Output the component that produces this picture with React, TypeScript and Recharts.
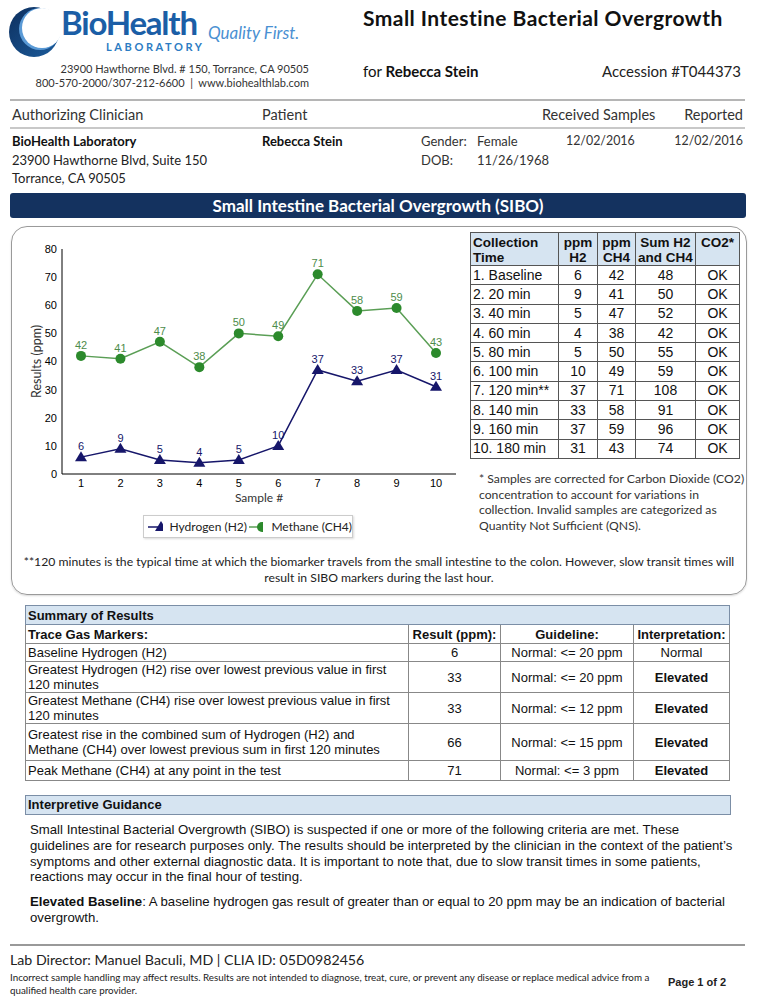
import React from "react";
import { LineChart, Line, XAxis, YAxis, Legend, LabelList } from "recharts";

const sampleNums = [1, 2, 3, 4, 5, 6, 7, 8, 9, 10];
const collectionTimes = ["1. Baseline", "2. 20 min", "3. 40 min", "4. 60 min", "5. 80 min", "6. 100 min", "7. 120 min**", "8. 140 min", "9. 160 min", "10. 180 min"];
const h2Values = [6, 9, 5, 4, 5, 10, 37, 33, 37, 31];
const ch4Values = [42, 41, 47, 38, 50, 49, 71, 58, 59, 43];
const sumValues = [48, 50, 52, 42, 55, 59, 108, 91, 96, 74];
const co2Status = ["OK", "OK", "OK", "OK", "OK", "OK", "OK", "OK", "OK", "OK"];
const yTicks = [0, 10, 20, 30, 40, 50, 60, 70, 80];

const summaryMarkers = [
  "Baseline Hydrogen (H2)",
  "Greatest Hydrogen (H2) rise over lowest previous value in first 120 minutes",
  "Greatest Methane (CH4) rise over lowest previous value in first 120 minutes",
  "Greatest rise in the combined sum of Hydrogen (H2) and Methane (CH4) over lowest previous sum in first 120 minutes",
  "Peak Methane (CH4) at any point in the test",
];
const summaryResults = [6, 33, 33, 66, 71];
const summaryGuidelines = ["Normal: <= 20 ppm", "Normal: <= 20 ppm", "Normal: <= 12 ppm", "Normal: <= 15 ppm", "Normal: <= 3 ppm"];
const summaryInterp = ["Normal", "Elevated", "Elevated", "Elevated", "Elevated"];
const summaryRowHeights = [18, 31, 31, 37, 20];

const H2_COLOR = "#16166a";
const CH4_LINE = "#5a9e55";
const CH4_DOT = "#2c8a2c";
const CH4_LABEL = "#4d8c4a";
const SEGOE = "Lato, 'Open Sans', sans-serif";
const ARIAL = "'Liberation Sans', Arial, sans-serif";
const HEAD_BG = "#d6e4f1";

const chartData = sampleNums.map((s, i) => ({ sample: s, h2: h2Values[i], ch4: ch4Values[i] }));

function Tri(props: any) {
  const { cx, cy, index } = props;
  if (cx == null || cy == null) return null;
  return <polygon key={"t" + index} points={`${cx},${cy - 6} ${cx + 6},${cy + 4} ${cx - 6},${cy + 4}`} fill={H2_COLOR} />;
}

function ChartLegend() {
  return (
    <div style={{ marginLeft: 123, width: 208, height: 21, border: "1px solid #ccc", boxShadow: "1px 1px 2px rgba(0,0,0,0.15)", display: "flex", alignItems: "center", fontFamily: SEGOE, fontSize: 12, color: "#222" }}>
      <svg width={30} height={14} style={{ marginLeft: 2 }}>
        <line x1={2} y1={7} x2={28} y2={7} stroke={H2_COLOR} strokeWidth={1.5} />
        <polygon points="15,1 21,11 9,11" fill={H2_COLOR} />
      </svg>
      <span style={{ marginLeft: 7 }}>Hydrogen (H2)</span>
      <svg width={28} height={14} style={{ marginLeft: 1 }}>
        <line x1={1} y1={7} x2={27} y2={7} stroke={CH4_LINE} strokeWidth={1.5} />
        <circle cx={14} cy={7} r={5} fill={CH4_DOT} />
      </svg>
      <span style={{ marginLeft: 8 }}>Methane (CH4)</span>
    </div>
  );
}

function SiboChart() {
  return (
    <LineChart width={440} height={305} data={chartData} margin={{ top: 9, right: 4, left: 0, bottom: 7 }}>
      <XAxis
        dataKey="sample"
        interval={0}
        axisLine={{ stroke: "#000" }}
        tickLine={false}
        tickSize={3}
        tickMargin={2}
        height={41}
        padding={{ left: 19, right: 20 }}
        tick={{ fill: "#000", fontSize: 11, fontFamily: ARIAL }}
        label={{ value: "Sample #", position: "insideBottom", offset: 13, fill: "#333", fontSize: 12, fontFamily: SEGOE }}
      />
      <YAxis
        domain={[0, 80]}
        ticks={yTicks}
        width={42}
        axisLine={{ stroke: "#000" }}
        tickLine={false}
        tickSize={3}
        tickMargin={2}
        tick={{ fill: "#000", fontSize: 11, fontFamily: ARIAL }}
        label={{ value: "Results (ppm)", angle: -90, position: "insideLeft", offset: 17, fill: "#333", fontSize: 12.5, fontFamily: SEGOE, style: { textAnchor: "middle" } }}
      />
      <Legend verticalAlign="bottom" align="left" content={() => <ChartLegend />} />
      <Line type="linear" dataKey="ch4" stroke={CH4_LINE} strokeWidth={1.5} dot={{ r: 5, fill: CH4_DOT, stroke: CH4_DOT, strokeWidth: 0 }} isAnimationActive={false}>
        <LabelList dataKey="ch4" position="top" offset={7} fill={CH4_LABEL} fontSize={11} fontFamily={ARIAL} />
      </Line>
      <Line type="linear" dataKey="h2" stroke={H2_COLOR} strokeWidth={1.5} dot={(p: any) => <Tri {...p} />} isAnimationActive={false}>
        <LabelList dataKey="h2" position="top" offset={7} fill={H2_COLOR} fontSize={11} fontFamily={ARIAL} />
      </Line>
    </LineChart>
  );
}

const abs = (left: number, top: number, extra: React.CSSProperties = {}): React.CSSProperties => ({ position: "absolute", left, top, whiteSpace: "nowrap", ...extra });
const absR = (right: number, top: number, extra: React.CSSProperties = {}): React.CSSProperties => ({ position: "absolute", right: 760 - right, top, whiteSpace: "nowrap", ...extra });

const cell: React.CSSProperties = { border: "1px solid #555", padding: "0 2px", fontFamily: ARIAL, fontSize: 14, color: "#111", lineHeight: "15px" };

export default function App() {
  return (
    <div style={{ position: "absolute", left: 0, top: 0, width: 760, height: 997, background: "#fff", overflow: "hidden", fontFamily: SEGOE, color: "#222" }}>
      {/* logo */}
      <svg width={54} height={54} style={abs(7, 5)}>
        <defs>
          <linearGradient id="lg" x1="0" y1="0" x2="1" y2="1">
            <stop offset="0" stopColor="#0d2f5e" />
            <stop offset="1" stopColor="#1c5c9c" />
          </linearGradient>
        </defs>
        <circle cx={27} cy={27} r={25} fill="url(#lg)" />
        <circle cx={33} cy={24} r={21} fill="#5a9ad6" />
        <circle cx={35} cy={23} r={20} fill="#fff" />
      </svg>
      <div style={abs(61, 9, { fontFamily: SEGOE, fontWeight: 700, fontSize: 33, lineHeight: "26px", color: "#1b5ea6", letterSpacing: -1.2 })}>BioHealth</div>
      <div style={abs(106, 41, { fontFamily: SEGOE, fontWeight: 700, fontSize: 11, lineHeight: "11px", color: "#2c7cc3", letterSpacing: 2.6 })}>LABORATORY</div>
      <div style={abs(208, 22, { fontFamily: SEGOE, fontStyle: "italic", fontSize: 17, color: "#4a90d2" })}>Quality First.</div>
      <div style={absR(309, 62, { textAlign: "right", fontSize: 11, lineHeight: "14px", color: "#333" })}>
        23900 Hawthorne Blvd. # 150, Torrance, CA 90505<br />800-570-2000/307-212-6600 &nbsp;|&nbsp; www.biohealthlab.com
      </div>

      {/* title block */}
      <div style={abs(363, 5, { fontWeight: 700, fontSize: 21, letterSpacing: 0.45, color: "#111" })}>Small Intestine Bacterial Overgrowth</div>
      <div style={abs(363, 62, { fontSize: 15, color: "#111" })}>for <b>Rebecca Stein</b></div>
      <div style={absR(741, 62, { fontSize: 15, color: "#222" })}>Accession #T044373</div>

      <div style={abs(10, 99, { width: 735, height: 2, background: "#b5b5b5" })} />
      <div style={abs(12, 106, { fontSize: 14.5, color: "#333" })}>Authorizing Clinician</div>
      <div style={abs(262, 106, { fontSize: 14.5, color: "#333" })}>Patient</div>
      <div style={abs(542, 106, { fontSize: 14.5, color: "#333" })}>Received Samples</div>
      <div style={absR(743, 106, { fontSize: 14.5, color: "#333" })}>Reported</div>
      <div style={abs(10, 127, { width: 735, height: 2, background: "#c8c8c8" })} />

      <div style={abs(12, 133, { fontSize: 13, fontWeight: 700, color: "#111" })}>BioHealth Laboratory</div>
      <div style={abs(12, 152, { fontSize: 13, color: "#222" })}>23900 Hawthorne Blvd, Suite 150</div>
      <div style={abs(12, 170, { fontSize: 13, color: "#222" })}>Torrance, CA 90505</div>
      <div style={abs(262, 133, { fontSize: 13, fontWeight: 700, color: "#111" })}>Rebecca Stein</div>
      <div style={abs(421, 133, { fontSize: 13, color: "#333" })}>Gender:</div>
      <div style={abs(477, 133, { fontSize: 13, color: "#333" })}>Female</div>
      <div style={abs(421, 152, { fontSize: 13, color: "#333" })}>DOB:</div>
      <div style={abs(477, 152, { fontSize: 13, color: "#333" })}>11/26/1968</div>
      <div style={abs(566, 133, { fontSize: 12.4, color: "#333" })}>12/02/2016</div>
      <div style={absR(743, 133, { fontSize: 12.4, color: "#333" })}>12/02/2016</div>

      <div style={abs(10, 193, { width: 736, height: 25, background: "#14325f", borderRadius: 3, color: "#fff", fontWeight: 700, fontSize: 17, textAlign: "center", lineHeight: "25px" })}>
        Small Intestine Bacterial Overgrowth (SIBO)
      </div>

      {/* chart box */}
      <div style={abs(11, 226, { width: 734, height: 367, border: "1.5px solid #9a9a9a", borderRadius: 16, boxShadow: "0 1px 2px rgba(0,0,0,0.15)" })} />
      <div style={abs(20, 240)}>
        <SiboChart />
      </div>

      <table style={{ position: "absolute", left: 470, top: 232, width: 269, borderCollapse: "collapse", tableLayout: "fixed" }}>
        <colgroup>
          <col style={{ width: 88 }} />
          <col style={{ width: 39 }} />
          <col style={{ width: 38 }} />
          <col style={{ width: 60 }} />
          <col style={{ width: 44 }} />
        </colgroup>
        <tbody>
          <tr style={{ height: 33, background: HEAD_BG }}>
            <td style={{ ...cell, fontWeight: 700, fontSize: 13.5, verticalAlign: "top", paddingTop: 2 }}>Collection<br />Time</td>
            <td style={{ ...cell, fontWeight: 700, fontSize: 13.5, textAlign: "center", verticalAlign: "top", paddingTop: 2 }}>ppm<br />H2</td>
            <td style={{ ...cell, fontWeight: 700, fontSize: 13.5, textAlign: "center", verticalAlign: "top", paddingTop: 2 }}>ppm<br />CH4</td>
            <td style={{ ...cell, fontWeight: 700, fontSize: 13.5, textAlign: "center", verticalAlign: "top", paddingTop: 2 }}>Sum H2<br />and CH4</td>
            <td style={{ ...cell, fontWeight: 700, fontSize: 13.5, textAlign: "center", verticalAlign: "top", paddingTop: 2 }}>CO2*</td>
          </tr>
          {collectionTimes.map((t, i) => (
            <tr key={t} style={{ height: 19.3 }}>
              <td style={cell}>{t}</td>
              <td style={{ ...cell, textAlign: "center" }}>{h2Values[i]}</td>
              <td style={{ ...cell, textAlign: "center" }}>{ch4Values[i]}</td>
              <td style={{ ...cell, textAlign: "center" }}>{sumValues[i]}</td>
              <td style={{ ...cell, textAlign: "center" }}>{co2Status[i]}</td>
            </tr>
          ))}
        </tbody>
      </table>

      <div style={abs(479, 471, { fontSize: 12.2, lineHeight: "15.7px", color: "#333" })}>
        * Samples are corrected for Carbon Dioxide (CO2)<br />concentration to account for variations in<br />collection. Invalid samples are categorized as<br />Quantity Not Sufficient (QNS).
      </div>

      <div style={{ position: "absolute", left: 11, top: 554, width: 736, textAlign: "center", fontSize: 12.2, lineHeight: "16px", color: "#222" }}>
        **120 minutes is the typical time at which the biomarker travels from the small intestine to the colon. However, slow transit times will<br />result in SIBO markers during the last hour.
      </div>

      {/* summary */}
      <table style={{ position: "absolute", left: 25, top: 605, width: 704, borderCollapse: "collapse", tableLayout: "fixed" }}>
        <colgroup>
          <col style={{ width: 383 }} />
          <col style={{ width: 92 }} />
          <col style={{ width: 133 }} />
          <col style={{ width: 96 }} />
        </colgroup>
        <tbody>
          <tr style={{ height: 19, background: HEAD_BG }}>
            <td colSpan={4} style={{ ...cell, border: "1px solid #7b8ea6", fontWeight: 700, fontSize: 13 }}>Summary of Results</td>
          </tr>
          <tr style={{ height: 19 }}>
            <td style={{ ...cell, border: "1px solid #888", fontWeight: 700, fontSize: 13 }}>Trace Gas Markers:</td>
            <td style={{ ...cell, border: "1px solid #888", fontWeight: 700, fontSize: 13, textAlign: "center" }}>Result (ppm):</td>
            <td style={{ ...cell, border: "1px solid #888", fontWeight: 700, fontSize: 13, textAlign: "center" }}>Guideline:</td>
            <td style={{ ...cell, border: "1px solid #888", fontWeight: 700, fontSize: 13, textAlign: "center" }}>Interpretation:</td>
          </tr>
          {summaryMarkers.map((m, i) => (
            <tr key={m} style={{ height: summaryRowHeights[i] }}>
              <td style={{ ...cell, border: "1px solid #888", fontSize: 13, lineHeight: "15px" }}>{m}</td>
              <td style={{ ...cell, border: "1px solid #888", fontSize: 13, textAlign: "center" }}>{summaryResults[i]}</td>
              <td style={{ ...cell, border: "1px solid #888", fontSize: 13, textAlign: "center" }}>{summaryGuidelines[i]}</td>
              <td style={{ ...cell, border: "1px solid #888", fontSize: 13, textAlign: "center", fontWeight: summaryInterp[i] === "Normal" ? 400 : 700 }}>{summaryInterp[i]}</td>
            </tr>
          ))}
        </tbody>
      </table>

      <div style={abs(25, 795, { width: 702, height: 18, background: HEAD_BG, border: "1px solid #7b8ea6", fontFamily: ARIAL, fontWeight: 700, fontSize: 13, lineHeight: "18px", paddingLeft: 2, color: "#111", boxSizing: "content-box" })}>Interpretive Guidance</div>

      <div style={abs(30, 822, { fontFamily: ARIAL, fontSize: 13.2, lineHeight: "15.8px", color: "#111" })}>
        Small Intestinal Bacterial Overgrowth (SIBO) is suspected if one or more of the following criteria are met. These<br />
        guidelines are for research purposes only. The results should be interpreted by the clinician in the context of the patient’s<br />
        symptoms and other external diagnostic data. It is important to note that, due to slow transit times in some patients,<br />
        reactions may occur in the final hour of testing.
      </div>
      <div style={abs(30, 894, { fontFamily: ARIAL, fontSize: 13.2, lineHeight: "15.8px", color: "#111" })}>
        <b>Elevated Baseline</b>: A baseline hydrogen gas result of greater than or equal to 20 ppm may be an indication of bacterial<br />overgrowth.
      </div>

      {/* footer */}
      <div style={abs(10, 944, { width: 735, height: 1.5, background: "#999" })} />
      <div style={abs(10, 951, { fontSize: 14.2, color: "#222" })}>Lab Director: Manuel Baculi, MD | CLIA ID: 05D0982456</div>
      <div style={abs(10, 971, { fontSize: 9.8, lineHeight: "13px", color: "#222" })}>
        Incorrect sample handling may affect results. Results are not intended to diagnose, treat, cure, or prevent any disease or replace medical advice from a<br />qualified health care provider.
      </div>
      <div style={abs(668, 976, { fontFamily: ARIAL, fontWeight: 700, fontSize: 11, color: "#222" })}>Page 1 of 2</div>
    </div>
  );
}
